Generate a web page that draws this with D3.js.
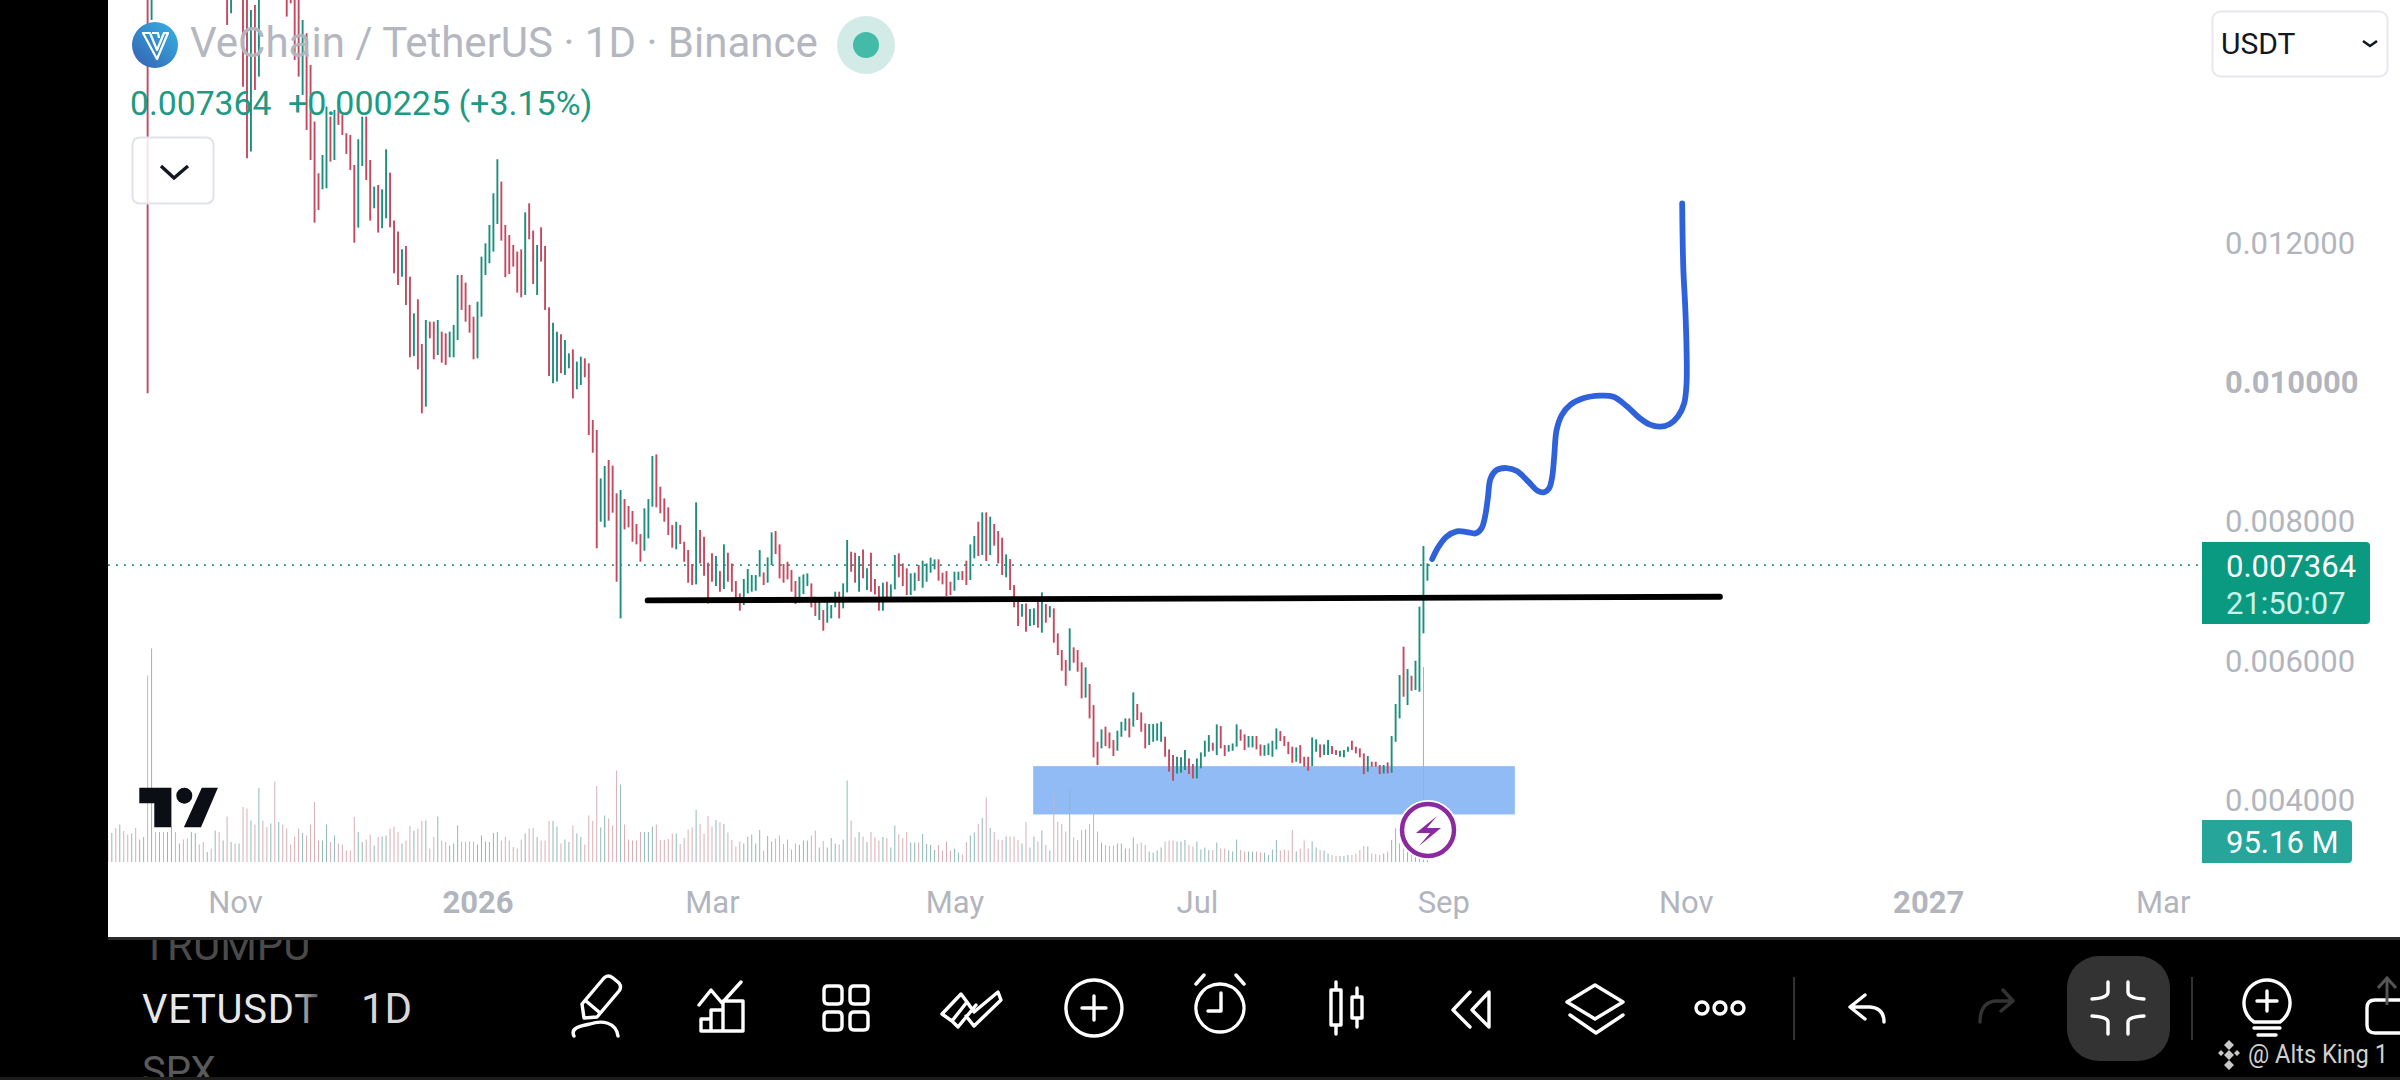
<!DOCTYPE html>
<html><head><meta charset="utf-8"><title>VETUSDT</title>
<script src="https://cdn.jsdelivr.net/npm/d3@7/dist/d3.min.js"></script>
<style>html,body{margin:0;padding:0;background:#000;overflow:hidden}svg{display:block}text{font-family:Roboto,sans-serif}</style>
</head><body><svg id="c" width="2400" height="1080" viewBox="0 0 2400 1080"></svg>
<script>
// prices in millionths of a USDT; candles run day by day and end on 2026-08-28
const priceUnit = 1e-6;
const lastCandleDay = 239; // days after 2026-01-01
const highs1 = [16600,16700,16900,17000,17100,17000,17100,17100,17000,16900,
16800,16500,
16400,16500,16500,16600,16700,16750,16800,16700,16600,16700,16800,16800,16600,16500,16400,16500,16300,16200,
15800,15700,16200,16200,15700,15900,15330,15401,15700,
16100,16200,16150,16100,16000,16100,
15900,15800,15900,15600];
const lows1 = [15700,15800,15900,16000,16100,16000,16050,15950,15900,15800,
9829,15186,
15700,15750,15800,15850,15900,15950,15900,15800,15750,15800,15900,15850,15700,15650,15600,15700,15600,15550,
15114,15282,15600,15600,14229,13201,13297,14182,14373,
15550,15600,15600,15550,15500,15550,
15234,15425,14612,14373];
const dirs1 = "rgrgrrgrgg"+"rg"+"rgrggrgrrggrrgrgrg"+"rgrgrrgrg"+"rrgrgr"+"rrrr";
const highs2 = [15186,14995,14540,13727,12986,13249,13942,13799,13895,14038,13823,13560,13536,13105,13474,13799,13799,13177,12795,12818,12756,13330,12995,12307,12149,11895,11943,11503,10977,11178,10537,10881,10857,10857,10881,10714,10690,10714,10810,11527,11527,11417,11097,10929,11144,11790,11981,12244,12699,13187,12866,12244,12101,11957,11862,11895,12426,12555,12163,11957,12211,11943,11063,10843,10714,10676,10594,10403,10460,10284,10355,10331,10260];
const lows2 = [14110,13608,13177,12278,12460,12756,12771,13153,13177,13679,13536,13263,13034,11991,12206,13091,12890,12307,12484,12135,12197,12340,12211,11551,11384,11503,11097,10346,10365,10173,9542,9638,10618,10317,10379,10269,10236,10346,10346,10594,11025,10857,10700,10317,10331,10929,11527,11695,11862,12259,12020,11494,11541,11647,11274,11207,11240,12039,11398,11240,11718,11025,10078,9973,9997,10116,10092,10188,9757,9887,9949,10059,9231];
const dirs2 = "grrrrggrgrrrrrggrrgrggrrrgrrgrrgrrgrrgggrrrrggggggrrrrrrgrrgrrrggrggrggrr";
const highs3 = [9446,9303,8609,8786,8872,8791,8394,8442,8312,8212,8140,7954,7810,8179,8312,8929,8953,8489,8322,8193,7939,7987,7939,7700,7581,7380,8265,7868,7772,7399,7533,7495,7279,7662,7542,7389,7136,6959,7165,7308,7222,7222,7581,7260,7475,7834,7853,7662,7380,7413,7294,7136,7198,7231,7246,7102,6911,6873,6720,6839,6791,6983,6983,7102,7724,7557,7542,7495,7590,7318,7542,7165,7064,7112,7126,7088,7509,7533,7389,7318,7246,7255,7365,7428,7389,7471,7447,7447,7255,7279,7126,7270,7270,7279,7428,7662,7782,7987,8121,8121,8059,7954,7853,7758,7518,7451,7078,6897,6806,6815,6734,6744,6839,6973,6806,6777];
const lows3 = [8977,7605,7987,7906,8002,8116,7126,6600,7877,7906,7700,7662,7413,7571,7748,8202,8193,8107,7987,7796,7614,7590,7667,7413,7112,7079,7088,7389,7212,6815,7126,7064,6983,7021,7126,6983,6839,6710,6791,6959,6983,6997,7198,7079,7112,7365,7523,7174,7112,7160,6983,6806,6825,6949,7064,6758,6634,6576,6423,6538,6600,6758,6600,6744,6973,7270,7112,6983,7174,7007,6983,6944,6710,6710,6863,6887,7016,7189,7064,6935,6935,6997,7136,7040,7126,7255,7303,7141,7088,6921,6935,6997,7150,7150,7079,7150,7461,7495,7509,7423,7509,7643,7389,7222,7189,7007,6758,6490,6624,6409,6490,6504,6466,6395,6538,6614];
const dirs3 = "rrggrrrgrrrrrgggrrrrrgrrrrgrrrrgrgrrrrgggggrggrrrrrrgggrrgrgggrggrrgrgrrrgrggrrrggrggggrrrrggrrggrgrgrrrgrrrgrggrgrg";
const highs4 = [6744,6385,6146,6002,6457,6184,6146,5969,5897,5658,5356,4830,5007,5046,4964,4854,4988,5117,5165,5165,5538,5371,5251,5093,5084,5084,5093,5117,4902,4720,4639,4615,4606,4711,4591,4510,4591,4677,4845,4926,4816,5079,5055,4782,4782,4806,5079,5007,4936,4912,4912,4912,4792,4782,4806,4845,5022,4983,4912,4830,4759,4749,4782,4615,4615,4892,4864,4792,4792,4854,4768,4711,4701,4711,4759,4845,4759,4735,4663,4625,4543,4543,4496,4496,4534,4912,5371,5787,6194,5873,5777,5993,6768,7638,7389];
const lows4 = [6251,6074,5849,5634,5849,5964,5835,5452,5462,5165,4606,4496,4735,4768,4735,4625,4701,4902,4988,4893,5046,5141,4974,4735,4783,4830,4845,4830,4615,4400,4271,4376,4386,4424,4366,4304,4304,4448,4615,4687,4701,4639,4735,4625,4687,4701,4759,4845,4711,4749,4749,4720,4629,4629,4639,4615,4720,4840,4768,4653,4529,4543,4520,4472,4414,4481,4687,4606,4639,4639,4653,4639,4615,4606,4687,4711,4663,4606,4366,4400,4472,4472,4366,4376,4376,4386,4830,5165,5476,5356,5562,5572,5548,6385,7140];
const dirs4 = "rrrrgrrrgrrrgrrrgggrgrrrggggrrrgggrrggggrgrrgggrrggrrggggrrrrgrrrggrggrrgggrrrrgrrrgrgggrgrgggg";
const highs = [...highs1, ...highs2, ...highs3, ...highs4];
const lows = [...lows1, ...lows2, ...lows3, ...lows4];
const dirs = dirs1 + dirs2 + dirs3 + dirs4;
const volumes = [43,58,68,75,62,55,57,68,45,50,373,427,60,60,60,60,70,60,37,45,47,60,58,35,40,20,27,63,60,43,91,40,37,37,110,107,83,75,148,83,70,77,161,80,75,67,35,51,67,58,53,75,120,43,43,75,40,53,37,35,23,23,90,60,40,45,55,33,50,51,53,67,71,60,37,43,72,63,67,82,83,27,50,91,43,40,33,37,73,41,40,41,41,35,53,41,40,58,60,43,50,43,30,27,45,57,67,68,50,43,43,82,82,71,37,45,40,73,57,50,35,93,82,152,69,93,87,73,183,155,75,45,43,43,60,60,60,71,75,
44,44,46,57,57,36,48,65,69,104,76,57,92,71,84,80,76,59,44,31,41,37,51,55,37,64,23,52,41,47,53,36,45,25,37,34,43,43,53,63,29,42,29,48,37,35,45,163,83,49,60,51,40,60,49,43,50,48,29,73,55,48,60,39,39,39,56,36,34,24,34,23,41,23,27,19,15,40,53,59,76,88,129,68,60,45,44,51,51,51,44,37,80,29,51,41,
63,34,23,137,80,76,61,144,49,44,64,65,76,109,61,39,34,32,33,37,37,27,27,49,36,39,34,21,19,23,29,41,43,43,41,41,44,34,31,41,25,29,24,24,39,27,27,23,21,45,24,21,21,21,21,19,19,14,25,44,23,25,23,64,21,27,43,27,41,29,24,23,17,14,12,12,12,14,14,17,24,32,31,17,16,14,17,21,44,67,37,27,21,14,11,7,390,95.16];
const yTickValues = [0.012,0.010,0.008,0.006,0.004];
const xTickDates = [Date.UTC(2025,10,1),Date.UTC(2026,0,1),Date.UTC(2026,2,1),Date.UTC(2026,4,1),Date.UTC(2026,6,1),Date.UTC(2026,8,1),Date.UTC(2026,10,1),Date.UTC(2027,0,1),Date.UTC(2027,2,1)];
const xTickLabels = ["Nov","2026","Mar","May","Jul","Sep","Nov","2027","Mar"];
const lastPrice = 0.007364;
const sketchDays = [240.2,241.7,243.8,246.4,248.9,251.2,252.6,253.5,254.2,254.9,256.4,258.9,261.5,264.4,266.7,268.2,269.6,270.4,270.9,271.5,272.8,274.9,278.2,282.4,285.8,289.1,292.5,295.0,297.5,300.0,302.1,303.6,304.2,304.2,303.9,303.4,303.2,303.1];
const sketchPrices = [7451,7619,7772,7848,7839,7820,7891,8059,8322,8609,8728,8757,8714,8561,8432,8408,8465,8633,8920,9302,9517,9661,9757,9795,9781,9647,9470,9379,9350,9388,9503,9685,9972,10450,11024,11598,12076,12555];
const trendDays = [42.8,312.6];
const trendPrices = [6858,6910];
const zoneDays = [139.8,261];
const zonePrices = [4480,3787];

const GREEN="#1c8f7c", RED="#c5485f";
const day0 = Date.UTC(2026,0,1);
const dayDate = n => new Date(day0 + n*864e5);
const x = d3.scaleUtc().domain([new Date(day0), new Date(Date.UTC(2027,2,1))]).range([477.5,2162.7]);
const y = d3.scaleLinear().domain([0.004,0.012]).range([799.6,242]);
const yVol = d3.scaleLinear().domain([0,100]).range([862,812]);
const svg = d3.select("#c");
const N = highs.length;
const cDate = i => dayDate(lastCandleDay-(N-1-i));

svg.append("rect").attr("x",108).attr("y",0).attr("width",2292).attr("height",937).attr("fill","#fff");
svg.append("defs").append("clipPath").attr("id","pane").append("rect").attr("x",108).attr("y",0).attr("width",2292).attr("height",865);
const pane = svg.append("g").attr("clip-path","url(#pane)");

// zone
pane.append("rect").attr("x",x(dayDate(zoneDays[0]))).attr("width",x(dayDate(zoneDays[1]))-x(dayDate(zoneDays[0])))
 .attr("y",y(zonePrices[0]*priceUnit)).attr("height",y(zonePrices[1]*priceUnit)-y(zonePrices[0]*priceUnit)).attr("fill","#90bbf5");

// volume
const volOff = N - volumes.length;
pane.append("g").selectAll("line").data(volumes).join("line")
 .attr("x1",(d,i)=>x(cDate(i+volOff))).attr("x2",(d,i)=>x(cDate(i+volOff)))
 .attr("y1",yVol(0)).attr("y2",d=>yVol(d))
 .attr("stroke",(d,i)=>dirs[i+volOff]==="g"?"#8fb9b6":"#d8aeb5").attr("stroke-width",1);

// last price line
pane.append("line").attr("x1",108).attr("x2",2198).attr("y1",y(lastPrice)).attr("y2",y(lastPrice))
 .attr("stroke","#1c8f7c").attr("stroke-width",1.8).attr("stroke-dasharray","1.8 6.2");

// candles
pane.append("g").selectAll("line").data(highs).join("line")
 .attr("x1",(d,i)=>x(cDate(i))).attr("x2",(d,i)=>x(cDate(i)))
 .attr("y1",d=>y(d*priceUnit)).attr("y2",(d,i)=>y(lows[i]*priceUnit))
 .attr("stroke",(d,i)=>dirs[i]==="g"?GREEN:RED).attr("stroke-width",1.9);

// drawings
const ln = d3.line().x(d=>x(dayDate(d[0]))).y(d=>y(d[1]*priceUnit));
svg.append("path").attr("d",ln(trendDays.map((d,i)=>[d,trendPrices[i]]))).attr("fill","none").attr("stroke","#000").attr("stroke-width",5.8).attr("stroke-linecap","round");
svg.append("path").attr("d",ln.curve(d3.curveCatmullRom)(sketchDays.map((d,i)=>[d,sketchPrices[i]]))).attr("fill","none").attr("stroke","#2f62da").attr("stroke-width",5.8).attr("stroke-linecap","round").attr("stroke-linejoin","round");

// axes
const gy = svg.append("g").attr("transform","translate(2225,0)")
 .call(d3.axisRight(y).tickValues(yTickValues).tickSize(0).tickPadding(0).tickFormat(d3.format(".6f")));
gy.select(".domain").remove();
gy.selectAll("text").attr("fill","#b2b5be").attr("font-size",31).attr("font-family","Roboto").attr("dy","0.36em")
 .attr("font-weight",d=>Math.abs(d-0.01)<1e-9?700:400);
const gx = svg.append("g").attr("transform","translate(0,902)")
 .call(d3.axisBottom(x).tickValues(xTickDates.map(d=>new Date(d))).tickSize(0).tickPadding(0).tickFormat((d,i)=>xTickLabels[i]));
gx.select(".domain").remove();
gx.selectAll("text").attr("fill","#b2b5be").attr("font-size",31).attr("font-family","Roboto").attr("dy","0.36em")
 .attr("font-weight",(d,i)=>/^20/.test(xTickLabels[i])?700:400);

// header
const T=(t,xx,yy,s,f,o={})=>{const e=svg.append("text").attr("x",xx).attr("y",yy).attr("font-size",s).attr("fill",f).text(t);for(const k in o)e.attr(k,o[k]);return e;};
const grad=svg.select("defs").append("linearGradient").attr("id","vet").attr("x1","0").attr("y1","1").attr("x2","1").attr("y2","0");
grad.append("stop").attr("offset","0").attr("stop-color","#3560b0");grad.append("stop").attr("offset","1").attr("stop-color","#35b4e6");
svg.append("circle").attr("cx",155).attr("cy",45).attr("r",23).attr("fill","url(#vet)");
svg.append("path").attr("d","M143 33H150L157 50L164 33H168L157 59ZM152 33H158L159 38").attr("fill","none").attr("stroke","#fff").attr("stroke-width",2.2).attr("stroke-linejoin","round");
T("VeChain / TetherUS · 1D · Binance",190,57,42,"#b2b5be",{opacity:0.97});
svg.append("circle").attr("cx",866).attr("cy",45).attr("r",29).attr("fill","#d3ebe7");
svg.append("circle").attr("cx",866).attr("cy",45).attr("r",13).attr("fill","#43bba8");
T("0.007364",130,115,33.7,"#1c9a83");
T("+0.000225 (+3.15%)",288,115,34,"#1c9a83");
svg.append("rect").attr("x",132.5).attr("y",137.5).attr("width",81).attr("height",66).attr("rx",7).attr("fill","rgba(255,255,255,.85)").attr("stroke","#e0e3eb").attr("stroke-width",2);
svg.append("path").attr("d","M161 166L174 178L188 166").attr("fill","none").attr("stroke","#131722").attr("stroke-width",3.4);
svg.append("rect").attr("x",2212.5).attr("y",11.5).attr("width",175).attr("height",65).attr("rx",8).attr("fill","#fff").attr("stroke","#e6e8ee").attr("stroke-width",2);
T("USDT",2221,54,30,"#131722");
svg.append("path").attr("d","M2363 41L2370 46L2377 41").attr("fill","none").attr("stroke","#131722").attr("stroke-width",2.6);

// badges
svg.append("path").attr("d","M2202 542H2366a4 4 0 0 1 4 4V620a4 4 0 0 1 -4 4H2202Z").attr("fill","#0a9981");
T("0.007364",2226,577,31,"#fff");
T("21:50:07",2226,614,31,"#c8f3ea");
svg.append("path").attr("d","M2202 820H2348a4 4 0 0 1 4 4V859a4 4 0 0 1 -4 4H2202Z").attr("fill","#26a69a");
T("95.16 M",2226,853,31,"#fff");

// tradingview logo
svg.append("path").attr("d","M139.3 787.7H171.4V827.3H154.3V803.3H139.3ZM201.8 787.7H217.9L201 827.3H183.9Z").attr("fill","#0c0e15");
svg.append("circle").attr("cx",184.3).attr("cy",795.7).attr("r",8).attr("fill","#0c0e15");

// lightning badge
svg.append("circle").attr("cx",1428).attr("cy",830).attr("r",30).attr("fill","#fff");
svg.append("circle").attr("cx",1428).attr("cy",830).attr("r",26).attr("fill","#fff").attr("stroke","#8b2a9e").attr("stroke-width",4.5);
svg.append("path").attr("d","M1437 816L1416 833H1430L1419 846L1441 828H1427Z").attr("fill","#8b2a9e");

// toolbar
svg.append("rect").attr("x",108).attr("y",937).attr("width",2292).attr("height",3).attr("fill","#2a2a2a");
svg.append("rect").attr("x",0).attr("y",1077).attr("width",2400).attr("height",3).attr("fill","#1c1c1c");
const fade=svg.select("defs").append("linearGradient").attr("id","fd");fade.append("stop").attr("offset",".85").attr("stop-color","#e8e8e8");fade.append("stop").attr("offset","1").attr("stop-color","#555");
svg.select("defs").append("clipPath").attr("id","tb").append("rect").attr("x",108).attr("y",940).attr("width",2292).attr("height",137);
const tb=svg.append("g").attr("clip-path","url(#tb)");
const TB=(t,xx,yy,s,f)=>tb.append("text").attr("x",xx).attr("y",yy).attr("font-size",s).attr("fill",f).text(t);
TB("TRUMPU",142,960,42,"#4a4a4a");
TB("VETUSDT",142,1023,40,"url(#fd)").attr("textLength",176);
TB("1D",361,1023,42,"#d8d8d8");
TB("SPX",142,1085,40,"#5a5a5a");
tb.append("rect").attr("x",2067).attr("y",956).attr("width",103).attr("height",105).attr("rx",32).attr("fill","#333");
const iconPaths=[
"M584 1018L582 1004L604 978Q608 974 613 978L619 983Q622 987 619 991L597 1017ZM586 1001L599 1012M574 1036C570 1028 580 1026 590 1024C602 1020 616 1022 618 1036",
"M699 1005L711 990L722 1003L741 982M701 1031V1019H711V1031ZM711 1031V1010H723V1031ZM723 1031V1001H743V1031Z",
"M828 986H838Q842 986 842 990V1000Q842 1004 838 1004H828Q824 1004 824 1000V990Q824 986 828 986ZM854 986H864Q868 986 868 990V1000Q868 1004 864 1004H854Q850 1004 850 1000V990Q850 986 854 986ZM828 1012H838Q842 1012 842 1016V1026Q842 1030 838 1030H828Q824 1030 824 1026V1016Q824 1012 828 1012ZM854 1012H864Q868 1012 868 1016V1026Q868 1030 864 1030H854Q850 1030 850 1026V1016Q850 1012 854 1012Z",
"M942 1014L961 994L967 1002L952 1021ZM952 1021L958 1027L976 1005M967 1002L974 1012L998 992L1001 1000L974 1026L966 1016",
"M1094 980A28 28 0 1 1 1093.9 980ZM1094 996V1020M1082 1008H1106",
"M1220 984A24 24 0 1 1 1219.9 984ZM1221 993V1011H1208M1196 984L1204 975M1244 984L1236 975",
"M1331 990H1341V1025H1331ZM1336 982V990M1336 1025V1034M1352 997H1362V1018H1352ZM1357 988V997M1357 1018V1027",
"M1470 992L1453 1010L1470 1027M1489 992L1472 1010L1489 1027Z",
"M1595 985L1623 1002L1595 1019L1567 1002ZM1570 1015L1596 1033L1623 1015",
"M1850 1007L1865 995M1850 1007L1865 1019M1851 1007H1870Q1884 1008 1884 1022",
"M2108 982V992Q2108 998 2092 999M2128 982V992Q2128 998 2144 999M2108 1034V1022Q2108 1017 2092 1016M2128 1034V1022Q2128 1017 2144 1016",
"M2267 980A23 23 0 0 1 2280 1022H2254A23 23 0 0 1 2267 980ZM2267 991V1011M2257 1001H2277M2254 1028H2280M2258 1035H2276",
"M2400 1000H2375Q2367 1000 2367 1008V1025Q2367 1033 2375 1033H2400"];
tb.selectAll("path.ic").data(iconPaths).join("path").attr("class","ic").attr("d",d=>d).attr("fill","none").attr("stroke","#fff").attr("stroke-width",3.4).attr("stroke-linejoin","round").attr("stroke-linecap","round");
tb.append("path").attr("d","M2003 990L2013 1001L2001 1011M2012 1001H1995Q1980 1003 1980 1022").attr("fill","none").attr("stroke","#333").attr("stroke-width",3.4).attr("stroke-linecap","round").attr("stroke-linejoin","round");
tb.append("path").attr("d","M2387 1005V978M2378 988L2387 978L2396 988").attr("fill","none").attr("stroke","#555").attr("stroke-width",3);
[1702,1720,1738].forEach(cx=>tb.append("circle").attr("cx",cx).attr("cy",1008).attr("r",6).attr("fill","none").attr("stroke","#fff").attr("stroke-width",3.4));
[1794,2192].forEach(xx=>tb.append("line").attr("x1",xx).attr("x2",xx).attr("y1",977).attr("y2",1040).attr("stroke","#333").attr("stroke-width",2));
svg.append("path").attr("d","M2229 1040L2234 1045L2229 1050L2224 1045ZM2229 1050L2234 1055L2229 1060L2224 1055ZM2221 1050L2224 1053L2221 1056L2218 1053ZM2237 1050L2240 1053L2237 1056L2234 1053ZM2229 1060L2234 1065L2229 1070L2224 1065Z").attr("fill","#c8c8c8");
T("@ Alts King 1",2248,1063,25,"#d0d0d0",{textLength:140,lengthAdjust:"spacingAndGlyphs"});
</script></body></html>
